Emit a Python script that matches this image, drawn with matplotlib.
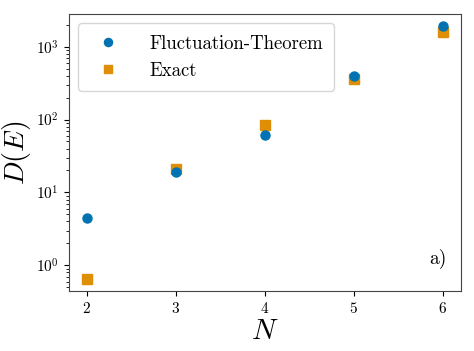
import matplotlib
matplotlib.use("Agg")
import matplotlib.pyplot as plt

plt.rcParams["font.family"] = "serif"
plt.rcParams["font.serif"] = ["cmr10"]
plt.rcParams["mathtext.fontset"] = "cm"
plt.rcParams["axes.formatter.use_mathtext"] = True

n_values = [2, 3, 4, 5, 6]
fluct_theorem = [4.5, 19, 62, 390, 1900]
exact = [0.65, 21, 83, 355, 1600]

fig, ax = plt.subplots(figsize=(4.74, 3.51), dpi=100)
ax.plot(n_values, exact, "s", color="#de8f05", ms=6.5, label="Exact", zorder=2)
ax.plot(n_values, fluct_theorem, "o", color="#0173b2", ms=6.5,
        label="Fluctuation-Theorem", zorder=3)
ax.set_yscale("log")
ax.set_ylim(0.44, 2800)
ax.set_xticks(n_values)
ax.set_xlabel(r"$N$", fontsize=21, labelpad=2)
ax.set_ylabel(r"$D(E)$", fontsize=20, labelpad=2)
ax.tick_params(labelsize=11)
for s in ax.spines.values():
    s.set_color("#444444")

handles, labels = ax.get_legend_handles_labels()
ax.legend(handles[::-1], labels[::-1], loc="upper left", fontsize=13.5,
          handletextpad=1.2, borderpad=0.6, markerscale=0.9)
ax.text(0.92, 0.1, "a)", transform=ax.transAxes, fontsize=14)

fig.subplots_adjust(left=0.145, right=0.972, top=0.96, bottom=0.17)
fig.savefig("out.png", dpi=100)
